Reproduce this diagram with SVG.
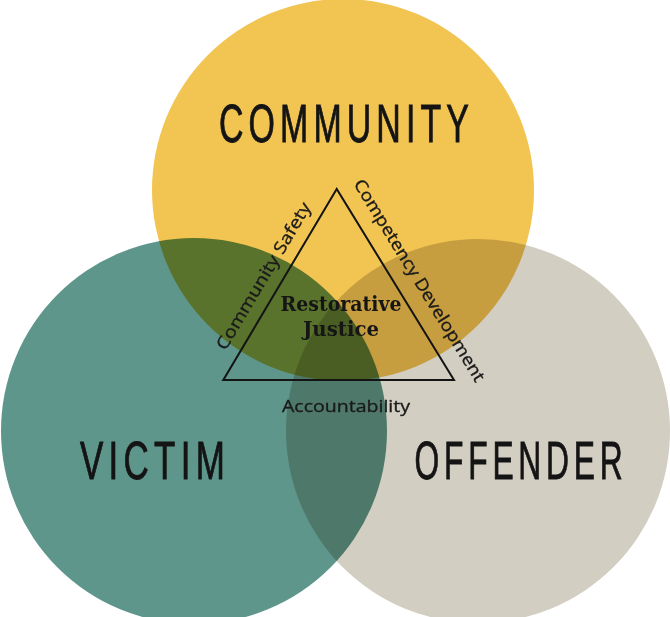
<svg xmlns="http://www.w3.org/2000/svg" width="670" height="617" viewBox="0 0 670 617">
  <style>
    .circle { mix-blend-mode: multiply; }
    .big { font-family: "Liberation Sans Narrow", "Liberation Sans", "DejaVu Sans", sans-serif; font-size: 53px; fill: #141414; stroke: #141414; stroke-width: 0.9px; letter-spacing: 8px; }
    .side { font-family: "Open Sans", "Noto Sans", "DejaVu Sans", sans-serif; font-size: 17px; fill: #1a1a1a; stroke: #1a1a1a; stroke-width: 0.35px; }
    .rj { font-family: "DejaVu Serif", "Liberation Serif", serif; font-weight: bold; font-size: 19.5px; fill: #151515; }
  </style>
  <rect x="0" y="0" width="670" height="617" fill="#ffffff"/>
  <g id="circles">
    <g id="victim">
      <circle class="circle" cx="194" cy="431" r="193" fill="#5e968b"/>
    </g>
    <g id="offender">
      <circle class="circle" cx="478" cy="431" r="192" fill="#d2cec2"/>
    </g>
    <g id="community">
      <circle class="circle" cx="343" cy="190" r="191" fill="#f2c452"/>
    </g>
  </g>
  <g id="labels">
    <text class="big" transform="translate(346.5,142) scale(0.6,1)" x="0" y="0" text-anchor="middle" textLength="425" lengthAdjust="spacingAndGlyphs">COMMUNITY</text>
    <text class="big" transform="translate(155,479) scale(0.6,1)" x="0" y="0" text-anchor="middle" textLength="250" lengthAdjust="spacingAndGlyphs">VICTIM</text>
    <text class="big" transform="translate(521,479) scale(0.6,1)" x="0" y="0" text-anchor="middle" textLength="355" lengthAdjust="spacingAndGlyphs">OFFENDER</text>
  </g>
  <g id="restorative-justice">
    <polygon points="336.7,189 223.3,380 454,380" fill="none" stroke="#141414" stroke-width="2"/>
    <text class="rj" x="341" y="311" text-anchor="middle" textLength="121" lengthAdjust="spacingAndGlyphs">Restorative</text>
    <text class="rj" x="341" y="336" text-anchor="middle" textLength="76" lengthAdjust="spacingAndGlyphs">Justice</text>
  </g>
  <g id="connectors">
    <text class="side" transform="translate(268.5,279) rotate(-59.2)" text-anchor="middle" textLength="168" lengthAdjust="spacingAndGlyphs">Community Safety</text>
    <text class="side" transform="translate(414.5,283.5) rotate(58.4)" text-anchor="middle" textLength="234" lengthAdjust="spacingAndGlyphs">Competency Development</text>
    <text class="side" x="346" y="412.3" text-anchor="middle" textLength="128" lengthAdjust="spacingAndGlyphs">Accountability</text>
  </g>
</svg>
